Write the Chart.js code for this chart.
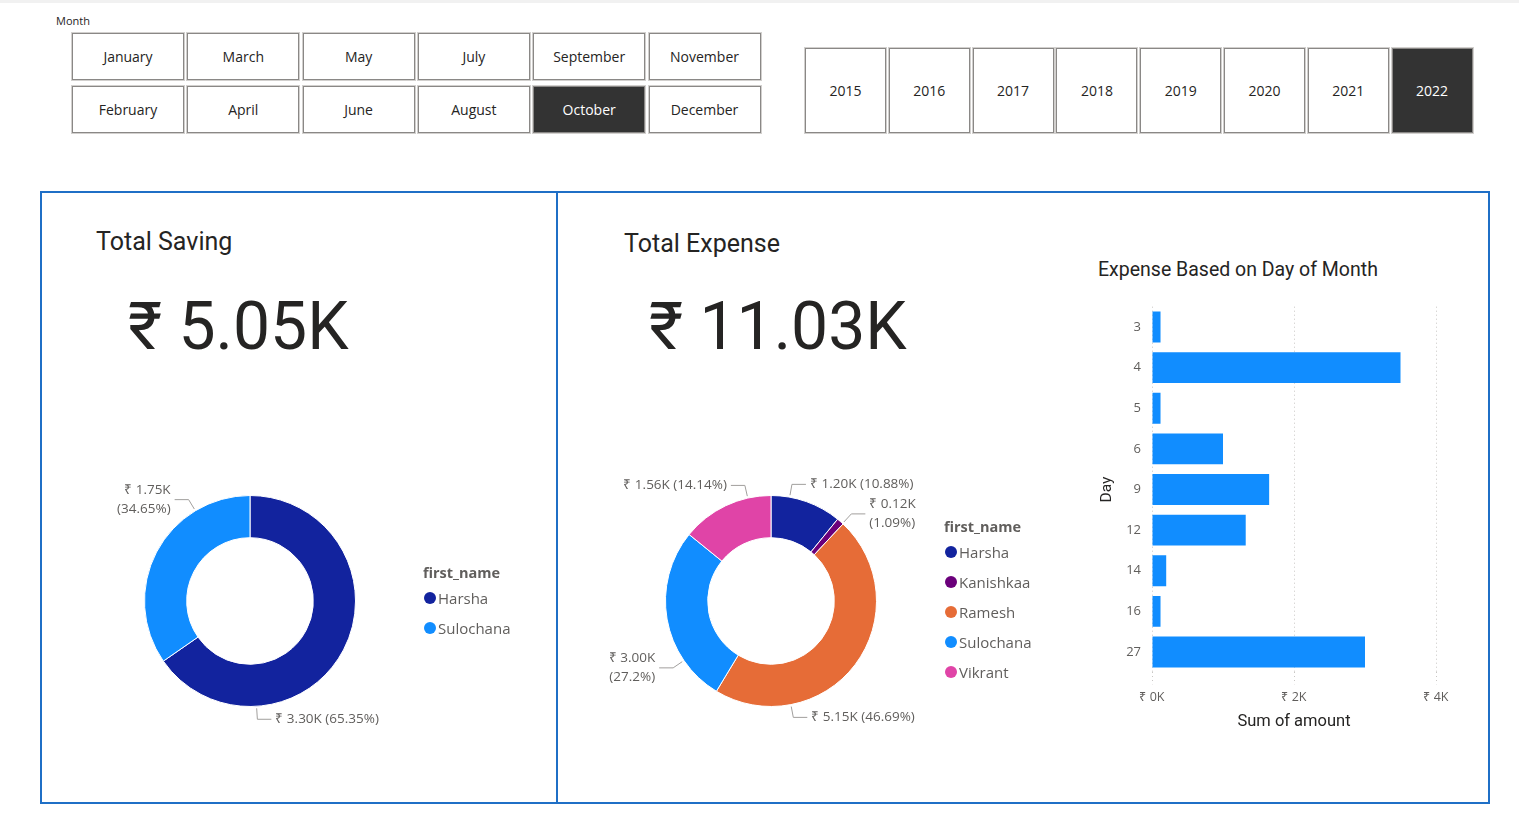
<!DOCTYPE html>
<html>
<head>
<meta charset="utf-8">
<script src="https://cdn.jsdelivr.net/npm/chart.js@4.4.1/dist/chart.umd.min.js"></script>
<style>
  body { margin: 0; background: #fff; font-family: 'Open Sans', 'Noto Sans', sans-serif; }
  #page { position: relative; width: 1519px; height: 840px; overflow: hidden; }
  .band { position: absolute; left: 0; top: 0; width: 1519px; height: 3px; background: #f1f1f1; }
  .caption { position: absolute; left: 56px; top: 13px; font-size: 11px; color: #252423; }
  .btn { position: absolute; box-sizing: border-box; border: 1px solid #8a8886; box-shadow: 0 0 0 1px #d2d0ce;
         background: #fff; color: #252423; font-size: 14px; display: flex; align-items: center; justify-content: center; }
  .btn.on { background: #333333; color: #fff; }
  .panel { position: absolute; box-sizing: border-box; border: 2px solid #1f6fc6; }
  .head { position: absolute; font-family: Roboto, sans-serif; color: #252423; line-height: 1; white-space: nowrap; }
  .kpi { position: absolute; font-family: Roboto, sans-serif; color: #252423; font-size: 66px; line-height: 1; white-space: nowrap; }
  .legend { position: absolute; font-size: 15px; color: #605e5c; }
  .legend .t { position: absolute; left: 0; font-size: 14.5px; font-weight: bold; white-space: nowrap; line-height: 18px; }
  .legend .it { position: absolute; left: 1px; height: 20px; display: flex; align-items: center; white-space: nowrap; }
  .legend .dot { width: 12px; height: 12px; border-radius: 50%; margin-right: 2px; }
  canvas { position: absolute; }
</style>
</head>
<body>
<div id="page">
  <div class="band"></div>
  <div class="caption">Month</div>
  <div id="slicers"></div>

  <div class="panel" style="left:40px; top:191px; width:518px; height:613px;"></div>
  <div class="panel" style="left:556px; top:191px; width:934px; height:613px;"></div>

  <div class="head" style="left:96px; top:229px; font-size:25px;">Total Saving</div>
  <div class="head" style="left:624px; top:231px; font-size:25px;">Total Expense</div>
  <div class="kpi" id="kpiSaving" style="left:128px; top:294px;"></div>
  <div class="kpi" id="kpiExpense" style="left:649px; top:294px;"></div>
  <div class="head" style="left:1098px; top:260px; font-size:19.5px;">Expense Based on Day of Month</div>

  <canvas id="savingChart" width="360" height="300" style="left:70px; top:451px;"></canvas>
  <canvas id="expenseChart" width="360" height="300" style="left:591px; top:451px;"></canvas>
  <div class="legend" id="savingLegend" style="left:423px; top:564px;"></div>
  <div class="legend" id="expenseLegend" style="left:944px; top:518px;"></div>

  <canvas id="dayChart" width="372" height="442" style="left:1092px; top:296px;"></canvas>
</div>

<script>
// slicers
const months = ['January', 'February', 'March', 'April', 'May', 'June', 'July', 'August', 'September', 'October', 'November', 'December'];
const years = ['2015', '2016', '2017', '2018', '2019', '2020', '2021', '2022'];
const selectedMonth = 'October';
const selectedYear = '2022';

// Total Saving by person
const savingNames = ['Harsha', 'Sulochana'];
const savingValues = [3300, 1750];

// Total Expense by person
const expenseNames = ['Harsha', 'Kanishkaa', 'Ramesh', 'Sulochana', 'Vikrant'];
const expenseValues = [1200, 120, 5150, 3000, 1560];

// Expense by day of month
const days = ['3', '4', '5', '6', '9', '12', '14', '16', '27'];
const dayAmounts = [120, 3500, 120, 1000, 1650, 1320, 200, 120, 3000];
const amountTicks = [0, 2000, 4000];

const personColors = {
    Harsha: '#12239E',
    Kanishkaa: '#6B007B',
    Ramesh: '#E66C37',
    Sulochana: '#118DFF',
    Vikrant: '#E044A7'
};

function money(v) {
    return '₹ ' + (v / 1000).toFixed(2) + 'K';
}

// slicer buttons
const slicers = document.getElementById('slicers');
months.forEach((m, i) => {
    const b = document.createElement('div');
    b.className = 'btn' + (m === selectedMonth ? ' on' : '');
    b.textContent = m;
    b.style.left = (72 + Math.floor(i / 2) * 115.3) + 'px';
    b.style.top = (i % 2 === 0 ? 33 : 86) + 'px';
    b.style.width = '112px';
    b.style.height = '47px';
    slicers.appendChild(b);
});
years.forEach((y, i) => {
    const b = document.createElement('div');
    b.className = 'btn' + (y === selectedYear ? ' on' : '');
    b.textContent = y;
    b.style.left = (805 + i * 83.8) + 'px';
    b.style.top = '48px';
    b.style.width = '81px';
    b.style.height = '85px';
    slicers.appendChild(b);
});

document.getElementById('kpiSaving').textContent = money(savingValues.reduce((a, b) => a + b, 0));
document.getElementById('kpiExpense').textContent = money(expenseValues.reduce((a, b) => a + b, 0));

function buildLegend(id, names) {
    const el = document.getElementById(id);
    const t = document.createElement('div');
    t.className = 't';
    t.textContent = 'first_name';
    el.appendChild(t);
    names.forEach((n, i) => {
        const it = document.createElement('div');
        it.className = 'it';
        it.style.top = (24 + i * 30) + 'px';
        it.innerHTML = '<span class="dot" style="background:' + personColors[n] + '"></span>' + n;
        el.appendChild(it);
    });
}
buildLegend('savingLegend', savingNames);
buildLegend('expenseLegend', expenseNames);

// labels outside the ring with a leader line
const outsideLabels = {
    id: 'outsideLabels',
    afterDatasetsDraw(chart, args, opts) {
        const ctx = chart.ctx;
        const values = chart.data.datasets[0].data;
        const total = values.reduce((a, b) => a + b, 0);
        ctx.save();
        ctx.font = '13.5px "Open Sans", sans-serif';
        ctx.fillStyle = '#605E5C';
        ctx.strokeStyle = '#A19F9D';
        ctx.lineWidth = 1;
        ctx.textBaseline = 'middle';
        chart.getDatasetMeta(0).data.forEach((arc, i) => {
            const p = arc.getProps(['x', 'y', 'startAngle', 'endAngle', 'outerRadius'], true);
            const a = p.startAngle + (p.endAngle - p.startAngle) * opts.anchor[i];
            const x1 = p.x + Math.cos(a) * (p.outerRadius + 2);
            const y1 = p.y + Math.sin(a) * (p.outerRadius + 2);
            const x2 = p.x + Math.cos(a) * (p.outerRadius + 13);
            const y2 = p.y + Math.sin(a) * (p.outerRadius + 13);
            const dir = Math.cos(a) >= 0 ? 1 : -1;
            const x3 = x2 + dir * 14;
            ctx.beginPath();
            ctx.moveTo(x1, y1);
            ctx.lineTo(x2, y2);
            ctx.lineTo(x3, y2);
            ctx.stroke();
            const pct = '(' + parseFloat((values[i] / total * 100).toFixed(2)) + '%)';
            ctx.textAlign = dir > 0 ? 'left' : 'right';
            const tx = x3 + dir * 4;
            if (opts.twoLines[i]) {
                ctx.fillText(money(values[i]), tx, y2 - 9.5);
                ctx.fillText(pct, tx, y2 + 9.5);
            } else {
                ctx.fillText(money(values[i]) + ' ' + pct, tx, y2);
            }
        });
        ctx.restore();
    }
};

function createDonut(id, names, values, anchor, twoLines) {
    new Chart(document.getElementById(id), {
        type: 'doughnut',
        data: {
            labels: names,
            datasets: [{
                data: values,
                backgroundColor: names.map(n => personColors[n]),
                borderColor: '#ffffff',
                borderWidth: 1,
                hoverOffset: 0
            }]
        },
        options: {
            responsive: false,
            animation: false,
            cutout: '60%',
            layout: { padding: { top: 44, bottom: 44, left: 74, right: 74 } },
            plugins: {
                legend: { display: false },
                tooltip: { enabled: false },
                outsideLabels: { anchor: anchor, twoLines: twoLines }
            }
        },
        plugins: [outsideLabels]
    });
}

createDonut('savingChart', savingNames, savingValues, [0.75, 0.75], [false, true]);
createDonut('expenseChart', expenseNames, expenseValues, [0.26, 0.9, 0.75, 0.25, 0.75], [false, true, false, true, false]);

new Chart(document.getElementById('dayChart'), {
    type: 'bar',
    data: {
        labels: days,
        datasets: [{
            data: dayAmounts,
            backgroundColor: '#118DFF',
            barPercentage: 0.95,
            categoryPercentage: 0.8
        }]
    },
    options: {
        indexAxis: 'y',
        responsive: false,
        animation: false,
        layout: { padding: { top: 10.7, right: 28, left: 6, bottom: 2.7 } },
        plugins: { legend: { display: false }, tooltip: { enabled: false } },
        scales: {
            x: {
                min: amountTicks[0],
                max: amountTicks[amountTicks.length - 1],
                afterBuildTicks: axis => { axis.ticks = amountTicks.map(v => ({ value: v })); },
                afterFit: axis => { axis.height = 63; },
                ticks: {
                    callback: v => '₹ ' + v / 1000 + 'K',
                    color: '#605E5C',
                    font: { family: 'Open Sans', size: 12.5 },
                    padding: 6,
                    maxRotation: 0
                },
                grid: { color: '#C8C6C4', tickLength: 12, tickColor: '#C8C6C4', tickBorderDash: [1, 3] },
                border: { display: false, dash: [1, 3] },
                title: {
                    display: true,
                    text: 'Sum of amount',
                    color: '#252423',
                    font: { family: 'Roboto', size: 16.5 },
                    padding: { top: 4, bottom: 4 }
                }
            },
            y: {
                afterFit: axis => { axis.width = 54; axis.paddingTop = 0; axis.paddingBottom = 0; },
                ticks: { color: '#605E5C', font: { family: 'Open Sans', size: 13 }, padding: 11 },
                grid: { display: false, drawTicks: false },
                border: { display: false },
                title: {
                    display: true,
                    text: 'Day',
                    color: '#252423',
                    font: { family: 'Roboto', size: 15.5 },
                    padding: { top: 0, bottom: 0 }
                }
            }
        }
    }
});
</script>
</body>
</html>
